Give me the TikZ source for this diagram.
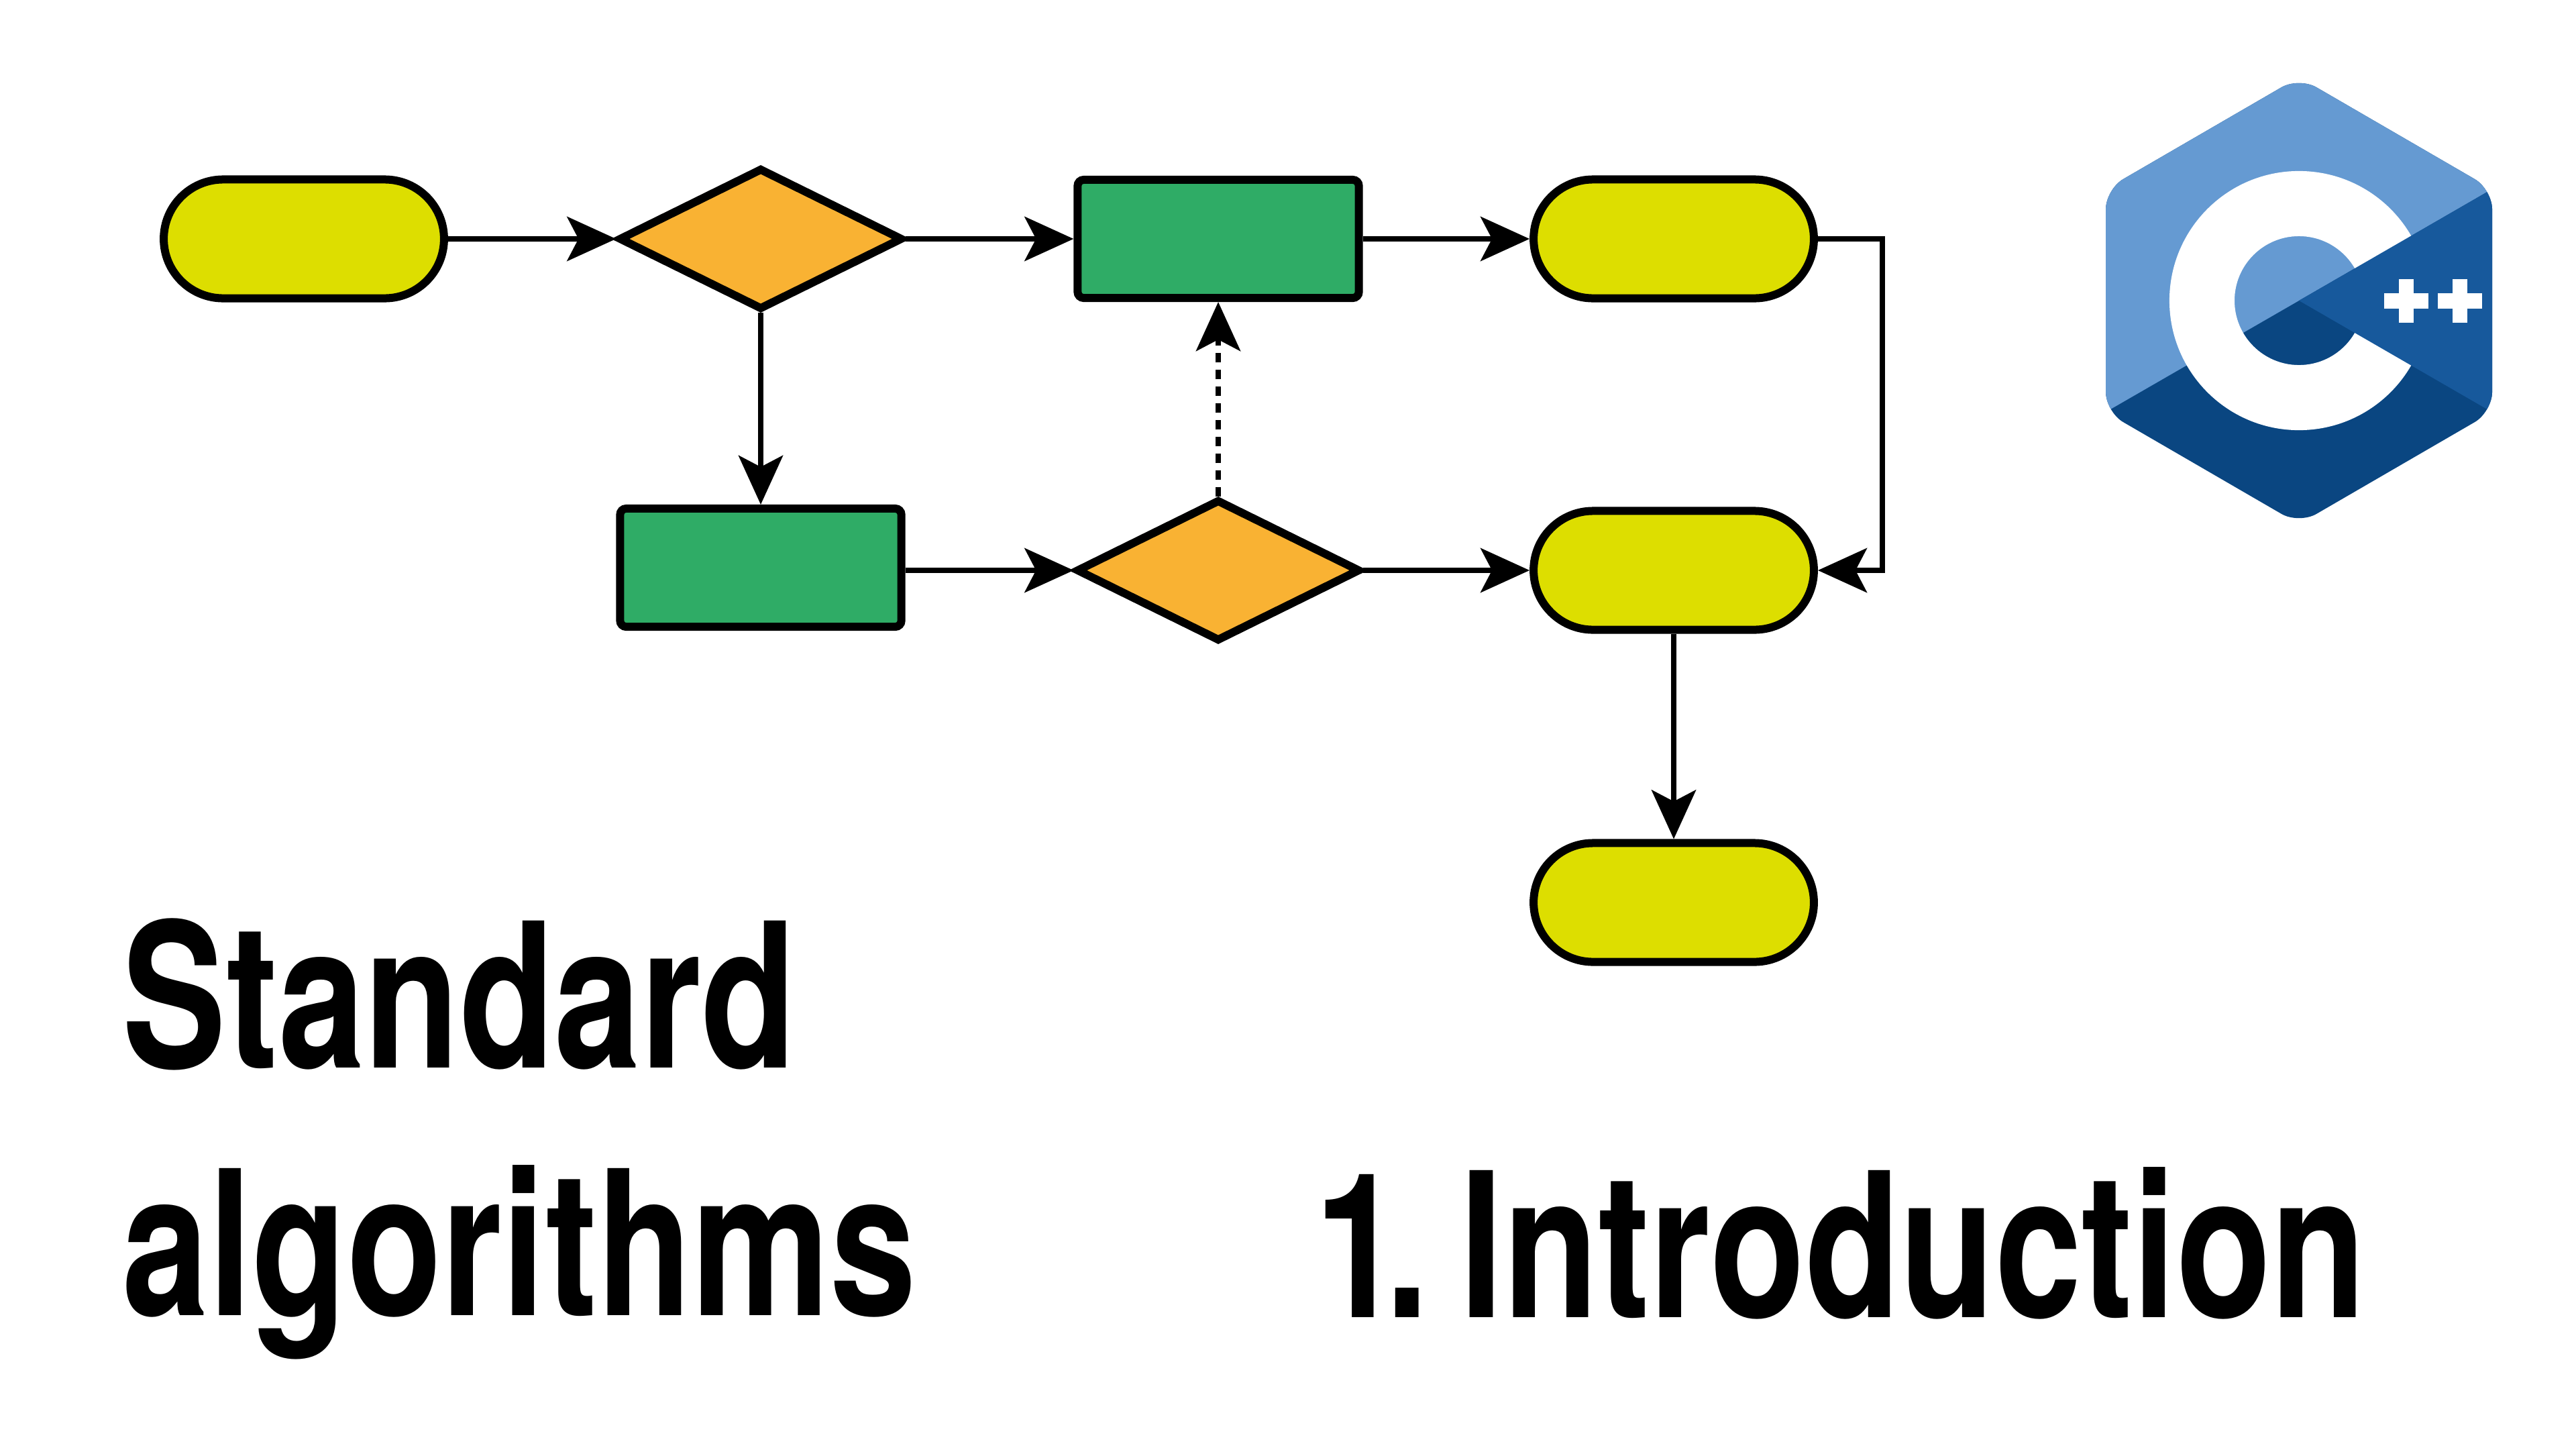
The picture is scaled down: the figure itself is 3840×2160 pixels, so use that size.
\documentclass[tikz,border=0pt]{standalone}
\usepackage{fontspec}
\setmainfont[FakeStretch=0.77,WordSpace=0.4]{TeX Gyre Heros}
\usetikzlibrary{
		positioning,
		arrows.meta,
		shapes.geometric,
		shapes.misc
	}
\definecolor{termyellow}{HTML}{DDDE00}
\definecolor{deciorange}{HTML}{F9B233}
\definecolor{procgreen}{HTML}{2FAC66}
\definecolor{cpplight}{HTML}{659AD2}
\definecolor{cppmid}{HTML}{17599C}
\definecolor{cppdark}{HTML}{0A4681}
\tikzset{
		>={Stealth[length=0.73cm,width=0.66cm,inset=0.17cm]},
		termbox/.style={draw, line width=0.12cm, fill=termyellow, rounded rectangle, minimum width=4.41cm, minimum height=1.77cm},
		procbox/.style={draw, line width=0.12cm, fill=procgreen, rounded corners=0.09cm, minimum width=4.19cm, minimum height=1.76cm},
		decibox/.style={draw, line width=0.12cm, fill=deciorange, diamond, aspect=2, inner sep=0pt, outer sep=0.045cm, minimum width=4.22cm, minimum height=2.1cm},
		link/.style={->, line width=0.08cm},
		dotlink/.style={link, dash pattern=on 0.14cm off 0.11cm},
		title/.style={font=\fontsize{85.5}{104.7}\selectfont\bfseries, inner sep=0pt, align=left}
	}
\begin{document}
\begin{tikzpicture}[x=0.01cm, y=-0.01cm]
		\useasboundingbox (0,0) rectangle (3840,2160);
		% flow chart
		\node[termbox] (start) at (453,356) {};
		\node[decibox] (decA) at (1134,356) {};
		\node[procbox] (procA) at (1816,356) {};
		\node[termbox] (termA) at (2495,356) {};
		\node[procbox] (procB) at (1134,846) {};
		\node[decibox] (decB) at (1816,850) {};
		\node[termbox] (termB) at (2495,850) {};
		\node[termbox] (stop) at (2495,1345) {};
		\coordinate (turn) at (2806,600);
		\draw[link] (start) -- (decA);
		\draw[link] (decA) -- (procA);
		\draw[link] (procA) -- (termA);
		\draw[link] (decA) -- (procB);
		\draw[link] (procB.east |- decB.west) -- (decB.west);
		\draw[link] (decB) -- (termB);
		\draw[dotlink] (decB) -- (procA);
		\draw[link] (termA.east) -| (turn) |- (termB.east);
		\draw[link] (termB) -- (stop);
		% logo
		\begin{scope}
			\clip[rounded corners=0.3cm] (3427,115) -- (3715,282) -- (3715,614) -- (3427,781) -- (3139,614) -- (3139,282) -- cycle;
			\fill[cppdark] (3100,90) rectangle (3750,800);
			\fill[cpplight] (3427,448) -- (3750,261.5) -- (3750,90) -- (3100,90) -- (3100,636.5) -- cycle;
			\fill[white, even odd rule] (3427,448) circle (1.93cm) (3427,448) circle (0.96cm);
			\fill[cppmid] (3427,448) -- (3750,261.5) -- (3750,634.5) -- cycle;
		\end{scope}
		\foreach \px in {3587,3667} {
			\fill[white] (\px-33,437) rectangle (\px+33,460);
			\fill[white] (\px-11,416) rectangle (\px+11,481);
		}
		% titles
		\node[title, anchor=base west] (name) at (182,1960) {Standard\\algorithms};
		\node[title, anchor=base west] (part) at (1960,1963) {1\kern-0.08em. Introduction};
	\end{tikzpicture}
\end{document}
